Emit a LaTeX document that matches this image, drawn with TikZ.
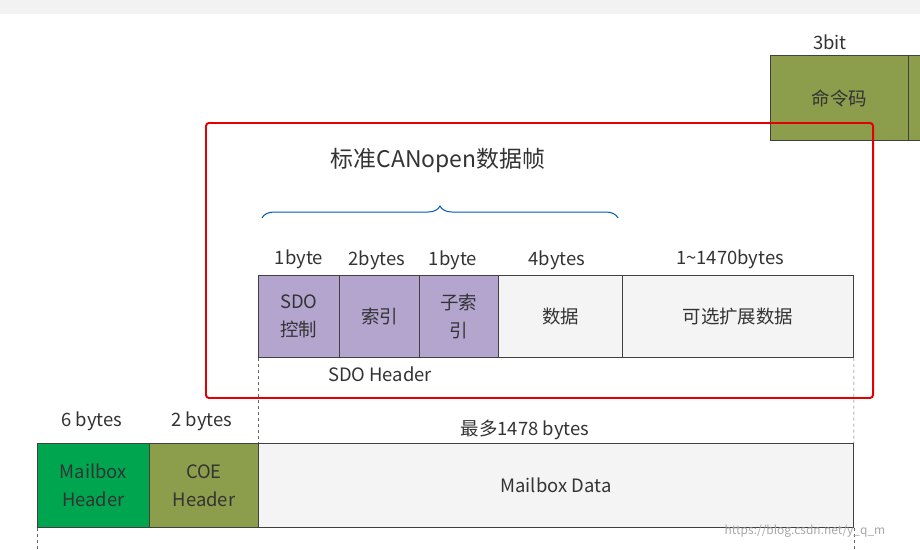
\documentclass[tikz,border=0pt]{standalone}
\usepackage{fontspec}
\setmainfont{Noto Sans CJK SC}
\usetikzlibrary{decorations.pathreplacing}
\definecolor{olive}{HTML}{8C9D4C}
\definecolor{mgreen}{HTML}{00A54F}
\definecolor{purp}{HTML}{B4A5CF}
\definecolor{lgray}{HTML}{F4F4F4}
\definecolor{txt}{HTML}{333333}
\tikzset{
 cell/.style={draw=black!75,line width=0.9pt,minimum height=#1,inner sep=0pt,text=txt,font=\fontsize{18.5}{28}\selectfont,align=center},
 lab/.style={text=txt,font=\fontsize{18.5}{22}\selectfont},
 dsh/.style={draw=black!60,dashed,line width=0.6pt}
}
\begin{document}
\begin{tikzpicture}[x=1bp,y=-1bp]
\useasboundingbox (0,0) rectangle (920,550);
\fill[black!5] (0,0) rectangle (920,14);
% top right
\node[cell=85bp,minimum width=138bp,fill=olive,anchor=north west] (cmd) at (770,55) {命令码};
\node[cell=85bp,minimum width=20bp,fill=olive,anchor=north west] (cmd2) at (908,55) {};
\node[lab] (b3) at (830,42) {3bit};
% title and brace
\node[text=txt,font=\fontsize{23}{26}\selectfont] (title) at (438,160) {标准CANopen数据帧};
\draw[blue!50!cyan!70!black,line width=1pt,decorate,decoration={brace,amplitude=12pt}] (262,218) -- (618,218) coordinate (bre);
% SDO row
\node[cell=82bp,minimum width=81bp,fill=purp,anchor=north west] (sdo) at (258,275) {SDO\\控制};
\node[cell=82bp,minimum width=80bp,fill=purp,anchor=north west] (idx) at (339,275) {索引};
\node[cell=82bp,minimum width=79bp,fill=purp,anchor=north west] (sub) at (419,275) {子索\\引};
\node[cell=82bp,minimum width=124bp,fill=lgray,anchor=north west] (dat) at (498,275) {数据};
\node[cell=82bp,minimum width=231bp,fill=lgray,anchor=north west] (opt) at (622,275) {可选扩展数据};
\node[lab] (l1) at (299,259) {1byte};
\node[lab] (l2) at (377,260) {2bytes};
\node[lab] (l3) at (453,260) {1byte};
\node[lab] (l4) at (557,260) {4bytes};
\node[lab] (l5) at (730,259) {1\textasciitilde1470bytes};
\node[lab] (sh) at (380,374) {SDO Header};
% bottom row
\node[cell=84bp,minimum width=112bp,fill=mgreen,anchor=north west] (mh) at (37,443) {Mailbox\\Header};
\node[cell=84bp,minimum width=109bp,fill=olive,anchor=north west] (coe) at (149,443) {COE\\Header};
\node[cell=84bp,minimum width=595bp,fill=lgray,anchor=north west] (md) at (258,443) {Mailbox Data};
\node[lab] (b6) at (92,421) {6 bytes};
\node[lab] (b2) at (202,421) {2 bytes};
\node[lab] (bm) at (525,430) {最多1478 bytes};
% dashed guides
\draw[dsh] (sdo.south west) -- (md.north west);
\draw[dsh] (opt.south east) -- (md.north east);
\draw[dsh] (mh.south west) -- ++(0,23);
\draw[dsh] (md.south east) -- ++(0,23);
% red frame
\draw[red!90!black,line width=2pt,rounded corners=3pt] (206,123) rectangle (873,398);
\node[text=black!35,font=\fontsize{12}{14}\selectfont] (wm) at (805,531) {https://blog.csdn.net/y\_q\_m};
\end{tikzpicture}
\end{document}
